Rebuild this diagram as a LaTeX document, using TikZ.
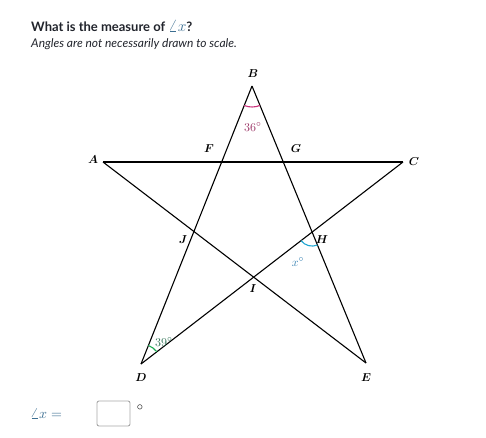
\documentclass[tikz,border=0pt]{standalone}
\usepackage{amsmath,bm}
\usepackage{fontspec}
\setmainfont{Lato}
\usetikzlibrary{calc,intersections}
\definecolor{txt}{HTML}{21242C}
\definecolor{mathblue}{HTML}{3B6E91}
\definecolor{pink}{HTML}{CA337C}
\definecolor{pinktxt}{HTML}{9E3A6A}
\definecolor{grn}{HTML}{1FAB54}
\definecolor{grntxt}{HTML}{3A7A5E}
\definecolor{cyn}{HTML}{1FA6D2}
\definecolor{cyntxt}{HTML}{3C84B4}
\tikzset{
  edge/.style={line width=1.1pt, black},
  ptlabel/.style={inner sep=0pt, text=black},
  anglabel/.style={inner sep=0pt},
}
\newcommand{\mth}[2]{\scalebox{#1}{$#2$}}
\newcommand{\pl}[1]{\mth{1.15}{\bm{#1}}}
\begin{document}
\begin{tikzpicture}[x=1pt,y=-1pt]
\useasboundingbox (0,0) rectangle (486,437);
% title
\node[anchor=base west, inner sep=0pt, text=txt, font=\fontsize{13}{15}\selectfont\bfseries] (title) at (31,31) {What is the measure of \textcolor{mathblue}{\mth{1.3}{\angle x}}?};
\node[anchor=base west, inner sep=0pt, text=txt, font=\fontsize{12}{14}\selectfont\itshape] (sub) at (31,47) {Angles are not necessarily drawn to scale.};
% points
\coordinate (B) at (252,86);
\coordinate (A) at (103,162);
\coordinate (C) at (403,162);
\coordinate (D) at (141,364);
\coordinate (E) at (366,363);
% lines
\draw[edge, name path=AC] (A) -- (C);
\draw[edge, name path=BD] (B) -- (D);
\draw[edge, name path=BE] (B) -- (E);
\draw[edge, name path=AE] (A) -- (E);
\draw[edge, name path=CD] (C) -- (D);
\path[name intersections={of=BE and CD, by=H}];
% angle arcs
\draw[pink, line width=1.1pt] ($(B)!21pt!(D)$) arc[start angle={atan2(364-86,141-252)}, end angle={atan2(363-86,366-252)}, radius=21];
\draw[grn, line width=1.1pt] ($(D)!20pt!(B)$) arc[start angle={atan2(86-364,252-141)}, end angle={atan2(162-364,403-141)}, radius=20];
\draw[cyn, line width=1.1pt] ($(H)!14pt!(D)$) arc[start angle={atan2(364-232.1,141-312.1)}, end angle={atan2(363-232.1,366-312.1)}, radius=14];
% angle labels
\node[anglabel, text=pinktxt] (a36) at (253,127) {\mth{1.2}{36^\circ}};
\node[anglabel, text=grntxt] (a39) at (164,342) {\mth{1.2}{39^\circ}};
\node[anglabel, text=cyntxt] (ax) at (298,262) {\mth{1.2}{x^\circ}};
% point labels
\node[ptlabel] (lB) at (253,74) {\pl{B}};
\node[ptlabel] (lA) at (93,160) {\pl{A}};
\node[ptlabel] (lC) at (414,162) {\pl{C}};
\node[ptlabel] (lD) at (141,378) {\pl{D}};
\node[ptlabel] (lE) at (366,378) {\pl{E}};
\node[ptlabel] (lF) at (209,149) {\pl{F}};
\node[ptlabel] (lG) at (296,149) {\pl{G}};
\node[ptlabel] (lH) at (322,240) {\pl{H}};
\node[ptlabel] (lJ) at (183,240) {\pl{J}};
\node[ptlabel] (lI) at (253,289) {\pl{I}};
% answer
\node[anchor=base west, inner sep=0pt, text=mathblue] (ans) at (30,418) {\mth{1.4}{\angle x =}};
\draw[rounded corners=2pt, draw=gray!70, line width=0.9pt] (97,401) rectangle (130,426);
\node[inner sep=0pt] (deg) at (140,408) {\mth{1.25}{\circ}};
\end{tikzpicture}
\end{document}
